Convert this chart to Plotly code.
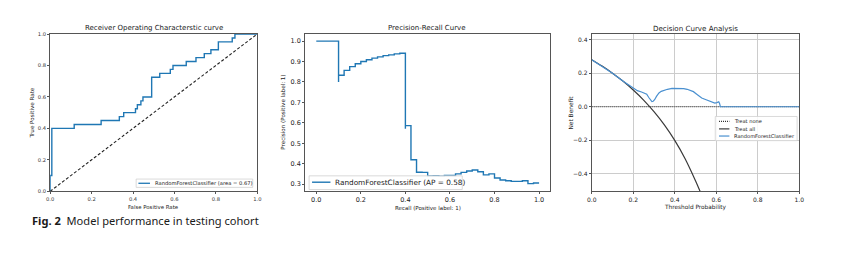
import plotly.graph_objects as go

W, H = 851, 275

# ---------------- data ----------------
roc_fpr = [0.0, 0.0, 0.008, 0.116, 0.246, 0.334, 0.355, 0.412, 0.421, 0.438, 0.448,
           0.49, 0.529, 0.58, 0.593, 0.657, 0.704, 0.744, 0.776, 0.812, 0.879, 0.892, 1.0]
roc_tpr = [0.0, 0.1, 0.4, 0.425, 0.45, 0.475, 0.5, 0.525, 0.55, 0.575, 0.6,
           0.725, 0.75, 0.775, 0.8, 0.825, 0.85, 0.875, 0.9, 0.95, 0.975, 1.0, 1.0]
chance_x = [0.0, 1.0]
chance_y = [0.0, 1.0]
roc_auc_label = "RandomForestClassifier (area = 0.67)"

pr_recall = [0.0, 0.1, 0.1, 0.125, 0.15, 0.175, 0.2, 0.225, 0.25, 0.275, 0.3, 0.325,
             0.35, 0.375, 0.4, 0.4, 0.425, 0.45, 0.475, 0.5, 0.525, 0.55, 0.575, 0.6,
             0.625, 0.65, 0.675, 0.7, 0.725, 0.75, 0.775, 0.8, 0.825, 0.85, 0.875,
             0.9, 0.925, 0.95, 0.975, 1.0]
pr_precision = [1.0, 1.0, 0.8, 0.833, 0.857, 0.875, 0.889, 0.9, 0.909, 0.917, 0.923, 0.929,
                0.933, 0.9375, 0.941, 0.571, 0.586, 0.419, 0.358, 0.357, 0.34, 0.341, 0.339,
                0.342, 0.342, 0.35, 0.357, 0.364, 0.369, 0.36, 0.345, 0.35, 0.33, 0.32,
                0.316, 0.313, 0.313, 0.316, 0.302, 0.305]
pr_label = "RandomForestClassifier (AP = 0.58)"

dca_none_t = [0.0, 1.0]
dca_none_nb = [0.0, 0.0]
dca_all_t = [0.0, 0.05, 0.1, 0.15, 0.2, 0.25, 0.3, 0.35, 0.4, 0.45, 0.5, 0.522]
dca_all_nb = [0.28, 0.242, 0.2, 0.153, 0.1, 0.04, -0.029, -0.108, -0.2, -0.309, -0.44, -0.503]
dca_model_t = [0.0, 0.05, 0.1, 0.15, 0.18, 0.2, 0.22, 0.24, 0.255, 0.265, 0.275, 0.284, 0.29,
               0.296, 0.303, 0.312, 0.324, 0.335, 0.348, 0.365, 0.387, 0.415, 0.443, 0.46,
               0.474, 0.49, 0.506, 0.518, 0.53, 0.545, 0.562, 0.578, 0.593, 0.603, 0.612,
               0.616, 0.62, 1.0]
dca_model_nb = [0.28, 0.242, 0.2, 0.153, 0.13, 0.112, 0.096, 0.088, 0.082, 0.075, 0.055, 0.036,
                0.031, 0.033, 0.042, 0.062, 0.082, 0.092, 0.098, 0.104, 0.109, 0.11, 0.108,
                0.104, 0.098, 0.09, 0.075, 0.062, 0.052, 0.045, 0.038, 0.03, 0.022, 0.025,
                0.03, 0.02, 0.0, 0.0]
dca_labels = ["Treat none", "Treat all", "RandomForestClassifier"]

tick01 = [0.0, 0.2, 0.4, 0.6, 0.8, 1.0]
pr_yticks = [0.3, 0.4, 0.5, 0.6, 0.7, 0.8, 0.9, 1.0]
dca_yticks = [-0.4, -0.2, 0.0, 0.2, 0.4]

BLUE = "#1f77b4"
BLUE2 = "#4a90d0"
FONT = "DejaVu Sans"


def px(x):
    return x / W


def py(y):
    return 1 - y / H


fig = go.Figure()

# ROC
fig.add_trace(go.Scatter(x=roc_fpr, y=roc_tpr, mode="lines", line=dict(color=BLUE, width=1.4, shape="hv"),
                         xaxis="x", yaxis="y", showlegend=False))
fig.add_trace(go.Scatter(x=chance_x, y=chance_y, mode="lines",
                         line=dict(color="#222", width=1.1, dash="3px,2px"),
                         xaxis="x", yaxis="y", showlegend=False))
# PR
fig.add_trace(go.Scatter(x=pr_recall, y=pr_precision, mode="lines", line=dict(color=BLUE, width=1.4, shape="vh"),
                         xaxis="x2", yaxis="y2", showlegend=False))
# DCA
fig.add_trace(go.Scatter(x=dca_none_t, y=dca_none_nb, mode="lines",
                         line=dict(color="#333", width=1.1, dash="1px,1px"),
                         xaxis="x3", yaxis="y3", showlegend=False))
fig.add_trace(go.Scatter(x=dca_all_t, y=dca_all_nb, mode="lines",
                         line=dict(color="#3a3a3a", width=1.2, shape="spline"),
                         xaxis="x3", yaxis="y3", showlegend=False))
fig.add_trace(go.Scatter(x=dca_model_t, y=dca_model_nb, mode="lines",
                         line=dict(color=BLUE2, width=1.2),
                         xaxis="x3", yaxis="y3", showlegend=False))

TOP, BOT = 31.7, 192.5
ax_common = dict(showline=True, linecolor="#555", linewidth=1, mirror=True, ticks="outside",
                 ticklen=2, tickwidth=0.8, tickcolor="#555", zeroline=False, showgrid=False,
                 tickformat=".1f", fixedrange=True)

fig.update_layout(
    width=W, height=H, margin=dict(l=0, r=0, t=0, b=0),
    paper_bgcolor="white", plot_bgcolor="white",
    font=dict(family=FONT, color="#222"),
    xaxis=dict(ax_common, domain=[px(45.7), px(255.3)], range=[0, 1], tickvals=tick01,
               tickfont=dict(size=5.2, color="#333"), anchor="y"),
    yaxis=dict(ax_common, domain=[py(BOT), py(TOP)], range=[0, 1], tickvals=tick01,
               tickfont=dict(size=5.2, color="#333"), anchor="x"),
    xaxis2=dict(ax_common, domain=[px(303.7), px(551.7)], range=[-0.05, 1.05], tickvals=tick01,
                tickfont=dict(size=6.5, color="#222"), anchor="y2"),
    yaxis2=dict(ax_common, domain=[py(BOT), py(TOP)], range=[0.2645, 1.035], tickvals=pr_yticks,
                tickfont=dict(size=6.5, color="#222"), anchor="x2"),
    xaxis3=dict(ax_common, domain=[px(593.7), px(803.7)], range=[0, 1], tickvals=tick01,
                showgrid=True, gridcolor="#cccccc", gridwidth=1,
                tickfont=dict(size=6, color="#222"), anchor="y3"),
    yaxis3=dict(ax_common, domain=[py(BOT), py(TOP)], range=[-0.503, 0.433], tickvals=dca_yticks,
                showgrid=True, gridcolor="#cccccc", gridwidth=1,
                tickfont=dict(size=6, color="#222"), anchor="x3"),
)

ann = []
shapes = []


def text(x, y, s, size, angle=0, xanchor="center", color="#222", family=FONT):
    ann.append(dict(x=px(x), y=py(y), xref="paper", yref="paper", text=s, showarrow=False,
                    font=dict(size=size, color=color, family=family), textangle=angle,
                    xanchor=xanchor, yanchor="middle"))


# titles
text(150.5, 25.7, "Receiver Operating Characterstic curve", 7.0)
text(427.5, 26, "Precision-Recall Curve", 7.0)
text(698.8, 26, "Decision Curve Analysis", 7.1)
# axis labels
text(150.5, 208.3, "False Positive Rate", 5.4)
text(27.3, 112, "True Positive Rate", 5.6, angle=-90)
text(428.5, 209.2, "Recall (Positive label: 1)", 5.5)
text(281.7, 111.7, "Precision (Positive label: 1)", 5.6, angle=-90)
text(699, 208.6, "Threshold Probability", 5.8)
text(572.3, 112.5, "Net Benefit", 5.9, angle=-90)

# caption
ann.append(dict(x=px(25.5), y=py(222.5), xref="paper", yref="paper", showarrow=False,
                text="<b>Fig. 2</b>  Model performance in testing cohort",
                font=dict(size=11.1, color="#1a1a1a", family="Noto Sans"),
                xanchor="left", yanchor="middle"))


def legend_box(x0, y0, x1, y1):
    shapes.append(dict(type="rect", xref="paper", yref="paper", x0=px(x0), x1=px(x1),
                       y0=py(y1), y1=py(y0), line=dict(color="#d0d0d0", width=0.8),
                       fillcolor="rgba(255,255,255,0.85)", layer="above"))


def legend_line(x0, x1, y, color, width=1.3, dash="solid"):
    shapes.append(dict(type="line", xref="paper", yref="paper", x0=px(x0), x1=px(x1),
                       y0=py(y), y1=py(y), line=dict(color=color, width=width, dash=dash), layer="above"))


# ROC legend
legend_box(132.7, 180, 250.7, 188.5)
legend_line(135, 146.7, 184.3, BLUE)
text(149.5, 184.3, roc_auc_label, 5.2, xanchor="left")

# PR legend
legend_box(307.7, 176.7, 462.7, 190.7)
legend_line(310.7, 329.3, 183.2, BLUE, width=1.4)
text(331.5, 183.2, pr_label, 7.3, xanchor="left")

# DCA legend
legend_box(718.7, 116, 801.5, 140.7)
legend_line(722.5, 733.0, 121, "#333", width=1.1, dash="1px,1px")
legend_line(722.5, 733.0, 128.7, "#3a3a3a", width=1.2)
legend_line(722.5, 733.0, 136, BLUE2, width=1.2)
text(735.3, 121, dca_labels[0], 5.1, xanchor="left")
text(735.3, 128.7, dca_labels[1], 5.1, xanchor="left")
text(735.3, 136, dca_labels[2], 5.1, xanchor="left")

fig.update_layout(annotations=ann, shapes=shapes)

fig.write_html("out.html")
